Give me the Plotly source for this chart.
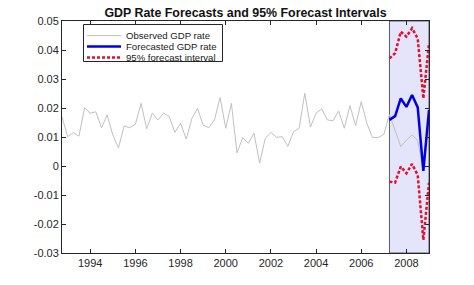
import numpy as np
import plotly.graph_objects as go

# ---- data ----
obs_start = 1992.75  # first observed quarter (decimal year)
observed_gdp = [
    0.0170, 0.0101, 0.0115, 0.0103, 0.0201, 0.0182, 0.0187, 0.0132, 0.0176, 0.0107,
    0.0062, 0.0138, 0.0132, 0.0144, 0.0216, 0.0128, 0.0182, 0.0159, 0.0182, 0.0170,
    0.0116, 0.0147, 0.0093, 0.0164, 0.0199, 0.0141, 0.0132, 0.0159, 0.0236, 0.0130,
    0.0216, 0.0045, 0.0098, 0.0078, 0.0113, 0.0010, 0.0095, 0.0116, 0.0099, 0.0101,
    0.0068, 0.0118, 0.0130, 0.0251, 0.0134, 0.0182, 0.0197, 0.0159, 0.0156, 0.0190,
    0.0130, 0.0208, 0.0139, 0.0222, 0.0147, 0.0098, 0.0098, 0.0109, 0.0177, 0.0124,
    0.0067, 0.0089, 0.0107, 0.0088, -0.0015,
]
observed_dates = obs_start + 0.25 * np.arange(len(observed_gdp))

forecast_dates = [2007.25, 2007.5, 2007.75, 2008.0, 2008.25, 2008.5, 2008.75, 2009.0]
forecast_gdp = [0.0159, 0.0172, 0.0233, 0.0204, 0.0245, 0.0202, -0.0017, 0.0193]
upper_95 = [0.0371, 0.0389, 0.0463, 0.0446, 0.0475, 0.0440, 0.0233, 0.0423]
lower_95 = [-0.0054, -0.0057, -0.0002, -0.0025, 0.0007, -0.0031, -0.0255, -0.0058]

x_tickvals = [1994, 1996, 1998, 2000, 2002, 2004, 2006, 2008]
y_tickvals = [-0.03, -0.02, -0.01, 0, 0.01, 0.02, 0.03, 0.04, 0.05]
y_ticktext = ["-0.03", "-0.02", "-0.01", "0", "0.01", "0.02", "0.03", "0.04", "0.05"]

legend_labels = ["Observed GDP rate", "Forecasted GDP rate", "95% forecast interval"]

# ---- style ----
FONT = "Liberation Sans, Arial, Helvetica, sans-serif"
AX = "#262626"
GRAY = "rgb(192,192,192)"
BLUE = "rgb(0,0,230)"
RED = "rgb(225,15,45)"

W, H = 474, 285
L, R, T, B = 62, 45, 21, 32
PW, PH = W - L - R, H - T - B


def px(x):
    return (x - L) / PW


def py(y):
    return (H - B - y) / PH


fig = go.Figure()
fig.add_trace(go.Scatter(x=observed_dates, y=observed_gdp, mode="lines",
                         line=dict(color=GRAY, width=1), showlegend=False))
fig.add_trace(go.Scatter(x=forecast_dates, y=forecast_gdp, mode="lines",
                         line=dict(color=BLUE, width=2.5), showlegend=False))
fig.add_trace(go.Scatter(x=forecast_dates, y=upper_95, mode="lines",
                         line=dict(color=RED, width=2.5, dash="3px,2px"), showlegend=False))
fig.add_trace(go.Scatter(x=forecast_dates, y=lower_95, mode="lines",
                         line=dict(color=RED, width=2.5, dash="3px,2px"), showlegend=False))

shapes = [
    dict(type="rect", xref="x", yref="paper", x0=forecast_dates[0], x1=forecast_dates[-1],
         y0=0, y1=1, fillcolor="rgb(228,228,250)", line=dict(color="rgb(90,90,105)", width=1),
         layer="below"),
    # legend box
    dict(type="rect", xref="paper", yref="paper", x0=px(83.5), x1=px(222.5),
         y0=py(61.5), y1=py(24.5), fillcolor="white", line=dict(color=AX, width=1)),
]
annotations = []
rows_y = [35.6, 46.6, 57.4]
styles = [dict(color=GRAY, width=1), dict(color=BLUE, width=2.5),
          dict(color=RED, width=2.5, dash="3px,2px")]
for lab, yy, st in zip(legend_labels, rows_y, styles):
    shapes.append(dict(type="line", xref="paper", yref="paper", x0=px(87), x1=px(121),
                       y0=py(yy), y1=py(yy), line=st))
    annotations.append(dict(text=lab, xref="paper", yref="paper", x=px(124), y=py(yy),
                            xanchor="left", yanchor="middle", showarrow=False,
                            font=dict(family=FONT, size=9.6, color="#1a1a1a")))

fig.update_layout(
    width=W, height=H, margin=dict(l=L, r=R, t=T, b=B),
    paper_bgcolor="white", plot_bgcolor="white",
    font=dict(family=FONT, size=11, color=AX),
    title=dict(text="<b>GDP Rate Forecasts and 95% Forecast Intervals</b>",
               x=(L + PW / 2) / W, xanchor="center", y=1 - 12.5 / H, yanchor="middle",
               font=dict(family=FONT, size=12.4, color="#111111")),
    shapes=shapes, annotations=annotations, showlegend=False,
)
fig.update_xaxes(range=[obs_start, forecast_dates[-1]], tickvals=x_tickvals,
                 ticks="inside", ticklen=4, tickcolor=AX, showline=True, linecolor=AX,
                 linewidth=1, mirror="ticks", showgrid=False, zeroline=False,
                 tickfont=dict(family=FONT, size=11, color=AX))
fig.update_yaxes(range=[-0.03, 0.05], tickvals=y_tickvals, ticktext=y_ticktext,
                 ticks="inside", ticklen=4, tickcolor=AX, showline=True, linecolor=AX,
                 linewidth=1, mirror="ticks", showgrid=False, zeroline=False,
                 tickfont=dict(family=FONT, size=11, color=AX))

fig.write_html("out.html")
